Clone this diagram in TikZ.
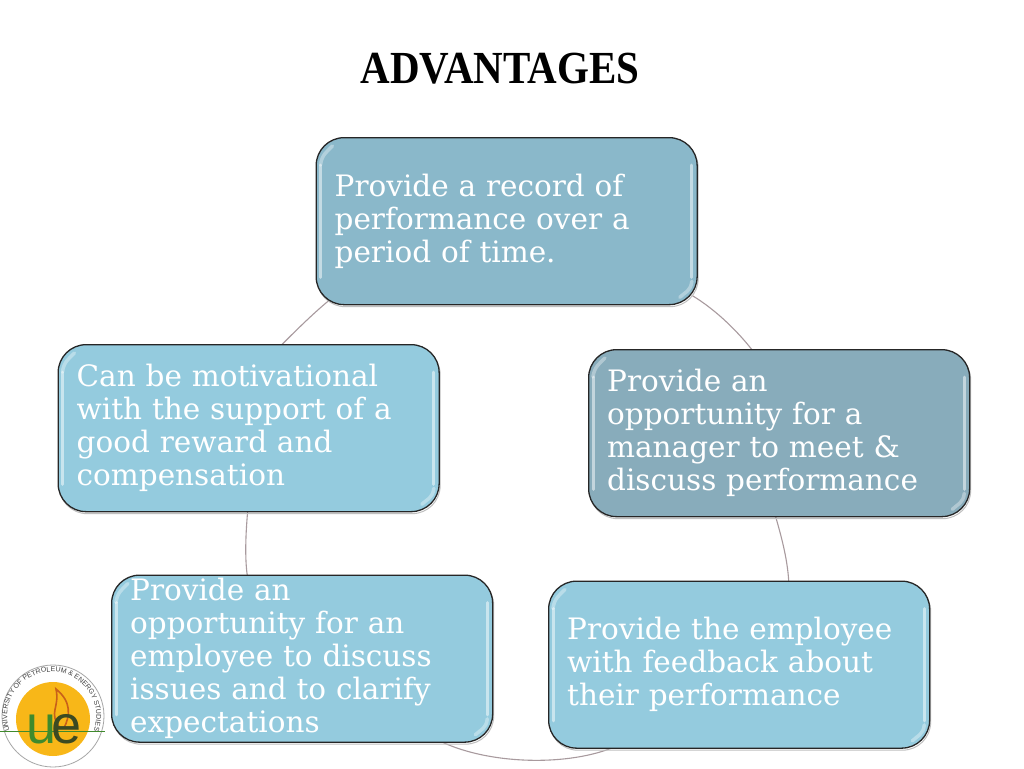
\documentclass[tikz,border=0pt]{standalone}
\usepackage{fontspec}
\setmainfont{DejaVu Serif}
\newfontfamily\titlefont{Liberation Serif}
\newfontfamily\logofont{Liberation Sans}
\usetikzlibrary{backgrounds,calc,decorations.text}
\definecolor{boxa}{HTML}{8AB8CA}
\definecolor{boxb}{HTML}{88ACBB}
\definecolor{boxc}{HTML}{94CBDE}
\definecolor{edgec}{HTML}{A89A9E}
\definecolor{sealyellow}{HTML}{F8B718}
\definecolor{sealgreen}{HTML}{3F8A2C}
\definecolor{sealdark}{HTML}{3C4A22}
\definecolor{flame}{HTML}{C8601A}
\tikzset{
  cyclebox/.style={draw=black!85,line width=1.3pt,rounded corners=28pt,minimum width=381pt,minimum height=167pt,
    text width=344pt,inner sep=0pt,align=left,text=white,font=\fontsize{29.5}{33}\selectfont,anchor=north west},
  boxshade/.style={preaction={draw=black!25,line width=1pt,transform canvas={xshift=1pt,yshift=-2pt}}},
  arc/.style={draw=edgec,line width=1.1pt},
  shine/.style={draw=white,opacity=.5,line width=3pt,line cap=round},
  shinec/.style={draw=white,opacity=.35,line width=3.5pt,line cap=round}
}
\newcommand{\shineon}[1]{%
  \draw[shine] ($(#1.north west)+(5,28)$) -- ($(#1.south west)+(5,-28)$);
  \draw[shine] ($(#1.north east)+(-6,28)$) -- ($(#1.south east)+(-6,-28)$);
  \draw[shinec] ($(#1.north west)+(5,28)$) .. controls +(1,-10) and +(-5,5) .. ($(#1.north west)+(17,9)$);
  \draw[shinec] ($(#1.south east)+(-6,-24)$) .. controls +(-1,10) and +(5,-5) .. ($(#1.south east)+(-18,-8)$);
}
\begin{document}
\begin{tikzpicture}[x=1pt,y=-1pt]
\useasboundingbox (0,0) rectangle (1024,768);
% title
\node[font=\titlefont\bfseries\fontsize{41}{41}\selectfont,text=black,inner sep=0pt] (title) at (500,69) {\scalebox{1}[1.12]{ADVANTAGES}};
% boxes
\node[cyclebox,boxshade,fill=boxa] (top) at (315.5,137) {Provide a record of\\performance over a\\period of time.};
\node[cyclebox,boxshade,fill=boxb] (right) at (588,349) {Provide an\\opportunity for a\\manager to meet \&\\discuss performance};
\node[cyclebox,boxshade,fill=boxc] (left) at (57.5,344) {Can be motivational\\with the support of a\\good reward and\\compensation};
\node[cyclebox,boxshade,fill=boxc] (bl) at (111,574.5) {Provide an\\opportunity for an\\employee to discuss\\issues and to clarify\\expectations};
\node[cyclebox,boxshade,fill=boxc] (br) at (548,580.5) {Provide the employee\\with feedback about\\their performance};
\foreach \n in {top,right,left,bl,br}{\shineon{\n}}
% connectors behind the boxes
\begin{pgfonlayer}{background}
\fill[white] (0,0) rectangle (1024,768);
\draw[arc] ($(top.south east)+(-6,-10)$) .. controls +(25,15) and +(-18,-25) .. ($(right.north west)+(171,10)$);
\draw[arc] ($(right.south west)+(185,-10)$) .. controls +(7,25) and +(0,-30) .. ($(br.north west)+(241,10)$);
\draw[arc] ($(br.south west)+(85,-12)$) .. controls +(-44,32) and +(54,36) .. ($(bl.south east)+(-68,-10)$);
\draw[arc] ($(bl.north west)+(138,10)$) .. controls +(-5,-20) and +(-3,30) .. ($(left.south west)+(191,-10)$);
\draw[arc] ($(left.north west)+(215,10)$) .. controls +(15,-15) and +(-20,15) .. ($(top.south west)+(20,-10)$);
\end{pgfonlayer}
% logo
\fill[white] (53,716) circle (52);
\draw[black!35,line width=.8pt] (53,716) circle (51);
\fill[sealyellow] (53,719) circle (37);
\draw[sealgreen,line width=.8pt] (0,731) -- (105,731);
\path[decorate,decoration={text along path,text align=center,text color=black!75,
  text={|\logofont\fontsize{7}{7}\selectfont|UNIVERSITY OF PETROLEUM {\&} ENERGY STUDIES}}]
  (10.5,733) arc[start angle=202,end angle=-22,x radius=44.5,y radius=-44.5];
\draw[flame,line width=1.6pt,line cap=round] (60,728) .. controls (48,712) and (60,708) .. (56,689) .. controls (72,702) and (70,716) .. (64,728);
\node[font=\logofont\fontsize{54}{54}\selectfont,text=sealgreen,inner sep=0pt,anchor=base] (ulogo) at (42,743) {u};
\node[font=\logofont\fontsize{54}{54}\selectfont,text=sealdark,inner sep=0pt,anchor=base] (elogo) at (67,743) {e};
\end{tikzpicture}
\end{document}
